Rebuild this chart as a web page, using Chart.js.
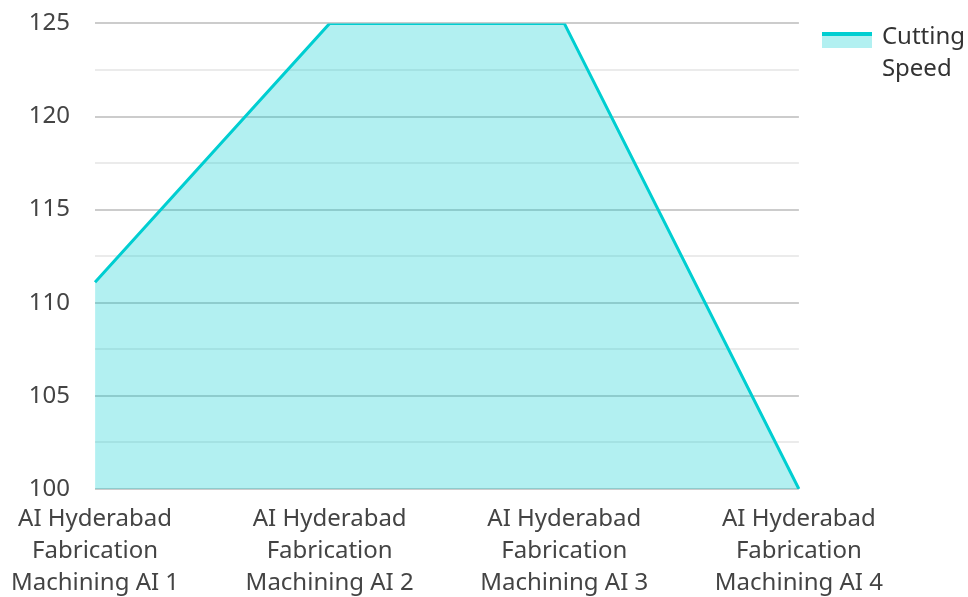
<!DOCTYPE html>
<html>
<head>
<meta charset="utf-8">
<script src="https://cdn.jsdelivr.net/npm/chart.js@4.4.1/dist/chart.umd.min.js"></script>
<style>
  html, body { margin: 0; padding: 0; background: #fff; }
  #wrap { width: 968px; height: 597px; }
</style>
</head>
<body>
<div id="wrap"><canvas id="chart" width="968" height="597"></canvas></div>
<script>
// Machines and their cutting speeds
const categories = [
  ['AI Hyderabad', 'Fabrication', 'Machining AI 1'],
  ['AI Hyderabad', 'Fabrication', 'Machining AI 2'],
  ['AI Hyderabad', 'Fabrication', 'Machining AI 3'],
  ['AI Hyderabad', 'Fabrication', 'Machining AI 4']
];
const cuttingSpeed = [111.1, 125, 125, 100];
const seriesName = 'Cutting Speed';
const yMin = 100, yMax = 125, yStep = 2.5, yLabelEvery = 5;

const lineColor = '#00CED1';
const fillColor = 'rgba(0, 206, 209, 0.3)';
const textColor = '#444444';
const fontFamily = '"Noto Sans", "Open Sans", sans-serif';

// Legend swatch: a thick line over a filled band, sitting slightly low
function makeSwatch() {
  const c = document.createElement('canvas');
  c.width = 50; c.height = 22;
  const g = c.getContext('2d');
  g.fillStyle = fillColor;
  g.fillRect(0, 6, 50, 16);
  g.fillStyle = lineColor;
  g.fillRect(0, 6, 50, 4);
  return c;
}
const swatch = makeSwatch();

new Chart(document.getElementById('chart'), {
  type: 'line',
  data: {
    labels: categories,
    datasets: [{
      label: seriesName,
      data: cuttingSpeed,
      borderColor: lineColor,
      backgroundColor: fillColor,
      borderWidth: 3,
      fill: 'origin',
      tension: 0,
      pointRadius: 0,
      pointHoverRadius: 0
    }]
  },
  options: {
    responsive: false,
    animation: false,
    layout: { padding: { top: 0, right: -7, left: 0, bottom: -16 } },
    plugins: {
      tooltip: { enabled: false },
      legend: {
        position: 'right',
        align: 'start',
        labels: {
          usePointStyle: true,
          pointStyle: swatch,
          pointStyleWidth: 46,
          boxHeight: 16,
          color: '#333333',
          font: { family: fontFamily, size: 24, lineHeight: 1.333 },
          padding: 25,
          generateLabels(chart) {
            const ds = chart.data.datasets[0];
            return [{
              text: ds.label.split(' '),
              fillStyle: fillColor,
              strokeStyle: lineColor,
              lineWidth: 0,
              pointStyle: swatch,
              datasetIndex: 0,
              hidden: false,
              fontColor: '#333333'
            }];
          }
        }
      }
    },
    scales: {
      x: {
        offset: false,
        grid: { display: false, drawTicks: false },
        border: { display: false },
        ticks: {
          color: textColor,
          font: { family: fontFamily, size: 24, lineHeight: 1.333 },
          maxRotation: 0,
          autoSkip: false,
          padding: 14
        },
        // let the first category label hang a little further into the left margin
        afterFit(scale) {
          scale.paddingLeft = Math.max(scale.paddingLeft - 3, 0);
        }
      },
      y: {
        min: yMin,
        max: yMax,
        border: { display: false },
        grid: {
          drawTicks: true,
          tickLength: 16,
          tickColor: 'rgba(0,0,0,0)',
          lineWidth: 2,
          color: ctx => (ctx.tick && Math.abs(ctx.tick.value % yLabelEvery) < 1e-6) ? '#cccccc' : '#ebebeb'
        },
        ticks: {
          stepSize: yStep,
          color: textColor,
          font: { family: fontFamily, size: 24 },
          padding: 9,
          callback: v => (Math.abs(v % yLabelEvery) < 1e-6 ? String(v) : '')
        }
      }
    }
  }
});
</script>
</body>
</html>
